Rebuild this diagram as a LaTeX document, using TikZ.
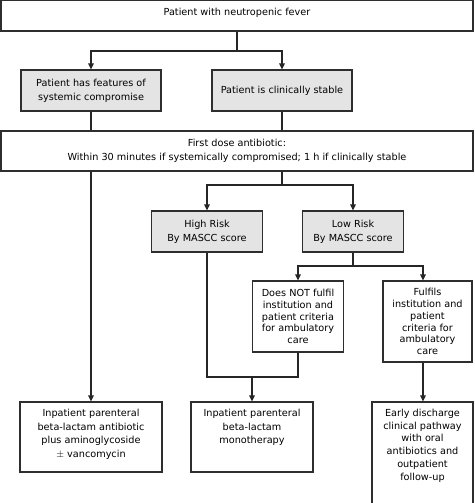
\documentclass[tikz,border=0pt]{standalone}
\usepackage{fontspec}
\setmainfont{DejaVu Sans}
\usetikzlibrary{arrows.meta}
\definecolor{edge}{HTML}{2E2E2E}
\definecolor{boxgray}{HTML}{E4E4E4}
\newcommand{\topbox}[3]{\parbox[c][#1pt][t]{#2pt}{\centering\vskip 7pt #3\par}}
\begin{document}
\begin{tikzpicture}[x=1pt,y=-1pt,
  font=\fontsize{9.7}{14}\selectfont,
  box/.style={draw=edge, line width=1.1pt, fill=white, rectangle, inner sep=0pt, align=center},
  graybox/.style={box, fill=boxgray},
  conn/.style={draw=black!85, line width=1.4pt},
  arr/.style={conn, -{Triangle[length=6pt,width=5.5pt]}}]
\useasboundingbox (0,0) rectangle (474,503);
% boxes
\node[box, minimum width=472pt, minimum height=31pt, text depth=8pt] (top) at (237,15.5) {Patient with neutropenic fever};
\node[graybox, minimum width=140pt, minimum height=41pt] (sys) at (91,90.5) {Patient has features of\\systemic compromise};
\node[graybox, minimum width=140pt, minimum height=41pt] (stable) at (282,90.5) {Patient is clinically stable};
\node[box, minimum width=472pt, minimum height=40pt] (first) at (237,151) {First dose antibiotic:\\Within 30 minutes if systemically compromised; 1 h if clinically stable};
\node[graybox, minimum width=111pt, minimum height=41pt] (high) at (207,231.5) {High Risk\\By MASCC score};
\node[graybox, minimum width=101pt, minimum height=41pt] (low) at (353,231.5) {Low Risk\\By MASCC score};
\node[box, minimum width=91pt, minimum height=71pt, font=\fontsize{9.7}{11.8}\selectfont] (notful) at (298,316.5) {Does NOT fulfil\\institution and\\patient criteria\\for ambulatory\\care};
\node[box, minimum width=89pt, minimum height=81pt, font=\fontsize{9.7}{11.8}\selectfont] (ful) at (427.5,321.5) {Fulfils\\institution and\\patient\\criteria for\\ambulatory\\care};
\node[box, font=\fontsize{9.7}{13.7}\selectfont] (b1) at (91,437) {\topbox{70}{142}{Inpatient parenteral\\beta-lactam antibiotic\\plus aminoglycoside\\$\pm$ vancomycin}};
\node[box, font=\fontsize{9.7}{13.7}\selectfont] (b2) at (252,437) {\topbox{70}{122}{Inpatient parenteral\\beta-lactam\\monotherapy}};
\node[box, font=\fontsize{9.7}{12.8}\selectfont] (b3) at (422.5,453.5) {\topbox{103}{101}{Early discharge\\clinical pathway\\with oral\\antibiotics and\\outpatient\\follow-up}};
% junctions
\coordinate (j1) at (237,51);
\coordinate (j2) at (282,185);
\coordinate (j3) at (353,266);
\coordinate (j4) at (252,377);
\coordinate (fx) at (423,0);
% connectors
\draw[conn] (top.south) -- (j1);
\draw[arr] (j1) -| (sys.north);
\draw[arr] (j1) -| (stable.north);
\draw[conn] (sys.south) -- (sys.south |- first.north);
\draw[conn] (stable.south) -- (stable.south |- first.north);
\draw[arr] (first.south -| b1.north) -- (b1.north);
\draw[conn] (first.south -| j2) -- (j2);
\draw[arr] (j2) -| (high.north);
\draw[arr] (j2) -| (low.north);
\draw[conn] (low.south) -- (j3);
\draw[arr] (j3) -| (notful.north);
\draw[arr] (j3) -| (ful.north -| fx);
\draw[conn] (high.south) |- (notful.south |- j4) -- (notful.south);
\draw[arr] (j4) -- (b2.north);
\draw[arr] (ful.south -| fx) -- (b3.north -| fx);
\end{tikzpicture}
\end{document}
